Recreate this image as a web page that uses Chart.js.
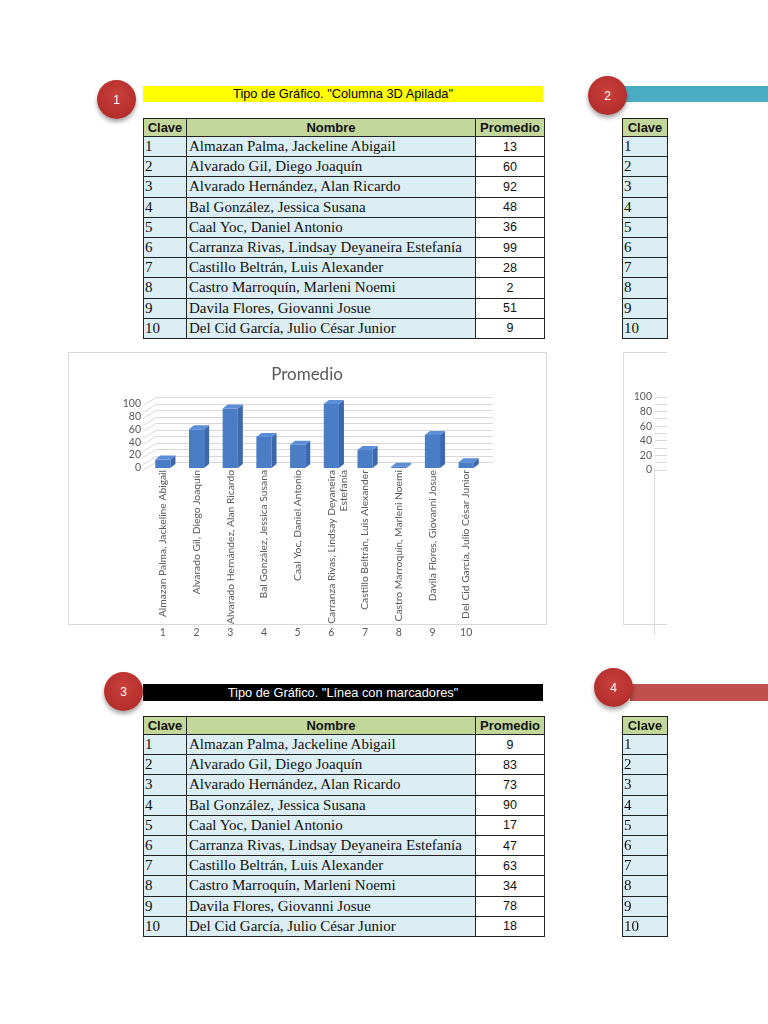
<!DOCTYPE html>
<html>
<head>
<meta charset="utf-8">
<script src="https://cdn.jsdelivr.net/npm/chart.js@4.4.0/dist/chart.umd.min.js"></script>
<style>
  html, body { margin: 0; padding: 0; background: #fff; }
  body { width: 768px; height: 1024px; position: relative; overflow: hidden; }
  .abs { position: absolute; }
  .badge {
    position: absolute; width: 39px; height: 39px; border-radius: 50%;
    background: radial-gradient(circle at 50% 40%, #c9403c 0%, #b8312e 60%, #9e2826 100%);
    box-shadow: 0 3px 4px rgba(0,0,0,0.35);
    color: #fff; font: 12px "Liberation Sans", Arial, sans-serif;
    display: flex; align-items: center; justify-content: center; z-index: 3;
  }
  .band {
    position: absolute; height: 16px; font: 12.8px "Liberation Sans", Arial, sans-serif;
    text-align: center; line-height: 16px;
  }
  table.grid { position: absolute; border-collapse: collapse; table-layout: fixed; }
  table.grid td, table.grid th { border: 1px solid #222; padding: 0; overflow: hidden; white-space: nowrap; }
  table.grid th {
    background: #c4d79b; font: bold 13px "Liberation Sans", Arial, sans-serif;
    color: #111; height: 17px; text-align: center;
  }
  table.grid td { height: 19.2px; font: 15px "Liberation Serif", "Times New Roman", serif; color: #111; }
  table.grid td.k { background: #daeef3; padding-left: 1px; }
  table.grid td.n { background: #daeef3; padding-left: 2px; }
  table.grid td.p { background: #fff; text-align: center; font: 12.5px "Liberation Sans", Arial, sans-serif; }
  .chartbox { position: absolute; border: 1px solid #d9d9d9; box-sizing: border-box; }
</style>
</head>
<body>

<!-- seccion 1 -->
<div class="badge" style="left:97px; top:80px;">1</div>
<div class="band" style="left:143px; top:86px; width:400px; background:#ffff00; color:#000;">Tipo de Gráfico. "Columna 3D Apilada"</div>
<div class="badge" style="left:588px; top:76px;">2</div>
<div class="abs" style="left:620px; top:86px; width:148px; height:16px; background:#4bacc6;"></div>

<div id="tabla1"></div>
<div id="tabla2"></div>

<div class="chartbox" style="left:68px; top:352px; width:479px; height:273px;"></div>
<div class="abs" style="left:68px; top:352px; width:478px; height:292px;">
  <canvas id="chart1"></canvas>
</div>

<div class="abs" style="left:623px; top:352px; width:44px; height:273px; border-left:1px solid #d9d9d9; border-top:1px solid #d9d9d9; border-bottom:1px solid #d9d9d9; box-sizing:border-box; overflow:hidden;">
  <div style="position:absolute; left:-1px; top:0; width:200px; height:272px;">
    <canvas id="chart2"></canvas>
  </div>
</div>
<div class="abs" style="left:654px; top:469px; width:1px; height:166px; background:#d9d9d9;"></div>

<!-- seccion 2 -->
<div class="badge" style="left:104px; top:672px;">3</div>
<div class="band" style="left:143px; top:684px; width:400px; height:17px; line-height:17px; background:#000; color:#fff;">Tipo de Gráfico. "Línea con marcadores"</div>
<div class="badge" style="left:594px; top:668px;">4</div>
<div class="abs" style="left:630px; top:684px; width:138px; height:17px; background:#c0504d;"></div>

<div id="tabla3"></div>
<div id="tabla4"></div>

<script>
const claves = ["1", "2", "3", "4", "5", "6", "7", "8", "9", "10"];
const nombres = [
  "Almazan Palma, Jackeline Abigail",
  "Alvarado Gil, Diego Joaquín",
  "Alvarado Hernández, Alan Ricardo",
  "Bal González, Jessica Susana",
  "Caal Yoc, Daniel Antonio",
  "Carranza Rivas, Lindsay Deyaneira Estefanía",
  "Castillo Beltrán, Luis Alexander",
  "Castro Marroquín, Marleni Noemi",
  "Davila Flores, Giovanni Josue",
  "Del Cid García, Julio César Junior"
];
const promedio1 = [13, 60, 92, 48, 36, 99, 28, 2, 51, 9];
const promedio3 = [9, 83, 73, 90, 17, 47, 63, 34, 78, 18];
const yTicks = [0, 20, 40, 60, 80, 100];

// etiquetas del eje: el nombre 6 va en dos lineas como en la hoja
const nombresEje = nombres.map(n =>
  n.startsWith("Carranza") ? ["Carranza Rivas, Lindsay Deyaneira", "Estefanía"] : n
);

const buildTable = (id, left, top, withNames, promedios) => {
  let html = `<table class="grid" style="left:${left}px; top:${top}px; width:${withNames ? 401 : 45}px;">`;
  html += withNames
    ? `<colgroup><col style="width:43px"><col style="width:289px"><col style="width:69px"></colgroup>`
    : `<colgroup><col style="width:45px"></colgroup>`;
  html += `<tr><th>Clave</th>${withNames ? "<th>Nombre</th><th>Promedio</th>" : ""}</tr>`;
  claves.forEach((c, i) => {
    html += `<tr><td class="k">${c}</td>`;
    if (withNames) {
      html += `<td class="n">${nombres[i]}</td><td class="p">${promedios[i]}</td>`;
    }
    html += `</tr>`;
  });
  html += `</table>`;
  document.querySelector(id).innerHTML = html;
};

buildTable("#tabla1", 143, 118, true, promedio1);
buildTable("#tabla2", 622, 118, false, null);
buildTable("#tabla3", 143, 716, true, promedio3);
buildTable("#tabla4", 622, 716, false, null);

// profundidad de la pared y de las columnas
const WALL_DX = 10, WALL_DY = -6;
const BAR_DX = 5, BAR_DY = -4;

const wall3d = {
  id: "wall3d",
  beforeDatasetsDraw(chart) {
    const {ctx, chartArea} = chart;
    const y = chart.scales.y;
    ctx.save();
    ctx.strokeStyle = "#d9d9d9";
    ctx.lineWidth = 1;
    for (let v = 0; v <= 100; v += 10) {
      const py = Math.round(y.getPixelForValue(v)) + 0.5;
      ctx.beginPath();
      ctx.moveTo(chartArea.left - 3, py + 2);
      ctx.lineTo(chartArea.left + WALL_DX, py + WALL_DY);
      ctx.lineTo(chartArea.right + WALL_DX, py + WALL_DY);
      ctx.stroke();
    }
    ctx.restore();
  },
  afterDatasetsDraw(chart) {
    const {ctx} = chart;
    const meta = chart.getDatasetMeta(0);
    ctx.save();
    meta.data.forEach(bar => {
      const {x, y, base, width} = bar.getProps(["x", "y", "base", "width"], true);
      const l = x - width / 2, r = x + width / 2;
      // cara lateral
      ctx.fillStyle = "#3c69ab";
      ctx.beginPath();
      ctx.moveTo(r, y);
      ctx.lineTo(r + BAR_DX, y + BAR_DY);
      ctx.lineTo(r + BAR_DX, base + BAR_DY);
      ctx.lineTo(r, base);
      ctx.closePath();
      ctx.fill();
      // cara superior
      ctx.fillStyle = "#5b8ed6";
      ctx.beginPath();
      ctx.moveTo(l, y);
      ctx.lineTo(l + BAR_DX, y + BAR_DY);
      ctx.lineTo(r + BAR_DX, y + BAR_DY);
      ctx.lineTo(r, y);
      ctx.closePath();
      ctx.fill();
    });
    ctx.restore();
  }
};

const chartFont = "Lato, 'Open Sans', sans-serif";

new Chart(document.querySelector("#chart1"), {
  type: "bar",
  data: {
    labels: nombresEje,
    datasets: [{
      label: "Promedio",
      data: promedio1,
      backgroundColor: "#4a7dc6",
      borderWidth: 0,
      barPercentage: 0.9,
      categoryPercentage: 0.5
    }]
  },
  options: {
    responsive: true,
    maintainAspectRatio: false,
    animation: false,
    layout: {padding: 0},
    plugins: {
      legend: {display: false},
      tooltip: {enabled: false},
      title: {
        display: true,
        text: "Promedio",
        color: "#595959",
        font: {family: chartFont, size: 17, weight: "normal"},
        padding: {top: 12, bottom: 19}
      }
    },
    scales: {
      y: {
        min: 0,
        max: 100,
        grid: {display: false, drawTicks: false},
        border: {display: false},
        afterFit: s => { s.width = 78; },
        ticks: {
          stepSize: 10,
          autoSkip: false,
          padding: 5,
          color: "#595959",
          font: {family: chartFont, size: 10.5},
          callback: v => yTicks.includes(v) ? v : ""
        }
      },
      // eje vacio a la derecha para dejar el espacio que deja Excel
      yRight: {
        type: "linear",
        position: "right",
        grid: {display: false, drawTicks: false},
        border: {display: false},
        ticks: {display: false},
        afterFit: s => { s.width = 63; }
      },
      x: {
        grid: {display: false, drawTicks: false},
        border: {display: false},
        afterFit: s => { s.height = 156; },
        ticks: {
          autoSkip: false,
          minRotation: 90,
          maxRotation: 90,
          padding: 2,
          color: "#595959",
          font: {family: chartFont, size: 10.3}
        }
      },
      x2: {
        type: "category",
        labels: claves,
        position: "bottom",
        offset: true,
        grid: {display: false, drawTicks: false},
        border: {display: false},
        afterFit: s => { s.height = 20; },
        ticks: {autoSkip: false, maxRotation: 0, padding: 2, color: "#595959", font: {family: chartFont, size: 10.5}}
      }
    }
  },
  plugins: [wall3d]
});

// segundo grafico: solo se alcanza a ver el eje de valores
new Chart(document.querySelector("#chart2"), {
  type: "line",
  data: {labels: claves, datasets: []},
  options: {
    responsive: true,
    maintainAspectRatio: false,
    animation: false,
    layout: {padding: {left: 0, right: 0, top: 44, bottom: 155}},
    plugins: {legend: {display: false}, tooltip: {enabled: false}},
    scales: {
      x: {display: false},
      y: {
        min: 0,
        max: 100,
        grid: {color: "#d9d9d9", drawTicks: false},
        border: {display: false},
        afterFit: s => { s.width = 32; },
        ticks: {
          stepSize: 10,
          autoSkip: false,
          padding: 3,
          color: "#595959",
          font: {family: chartFont, size: 10.5},
          callback: v => yTicks.includes(v) ? v : ""
        }
      }
    }
  }
});
</script>
</body>
</html>
